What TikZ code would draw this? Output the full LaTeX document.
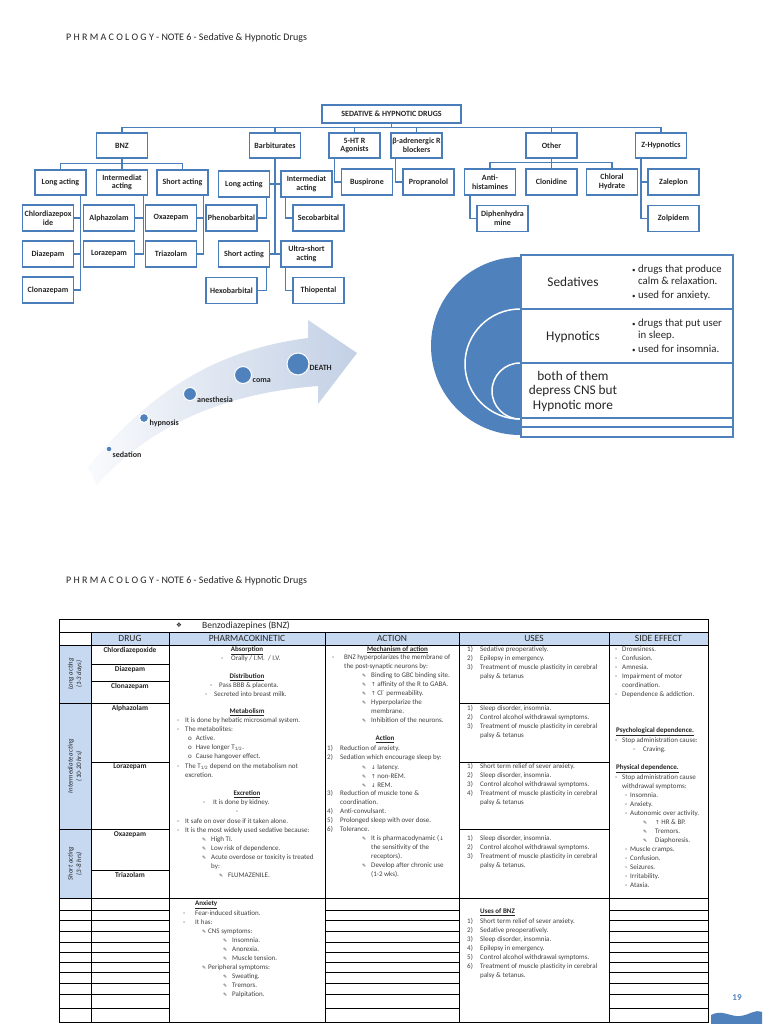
\documentclass[tikz,border=0pt]{standalone}
\usepackage{fontspec}
\setmainfont{Carlito}
\newfontfamily\symf{DejaVu Sans}
\usetikzlibrary{shadows}
\definecolor{bblue}{HTML}{4A7EBB}
\definecolor{nblue}{HTML}{4F81BD}
\definecolor{hblue}{HTML}{C6D9F1}
\definecolor{arrowc}{HTML}{C3D0E5}
\definecolor{txg}{HTML}{404040}
\definecolor{dark}{HTML}{262626}
\newcommand{\mypen}{{\symf\fontsize{4.8}{5}\selectfont ✎}}
\newcommand{\myup}{{\symf\fontsize{5.5}{5}\selectfont ↑}}
\newcommand{\mydn}{{\symf\fontsize{5.5}{5}\selectfont ↓}}
\newcommand{\dsh}[1]{\makebox[#1][l]{-}}
\newcommand{\mk}{\makebox[9pt][l]{\mypen}}
\newcommand{\nm}[1]{\makebox[13pt][l]{#1}}
\newcommand{\blk}[4]{\node[tx] (#1) at (#2,#3-3.1) {\rule{0pt}{5.3pt}#4};}
\tikzset{
 tbox/.style={draw=bblue, line width=1.3pt, fill=white, minimum width=51pt, minimum height=25pt, align=center, inner sep=0pt, font=\bfseries\fontsize{8}{8.6}\selectfont, text=dark, general shadow={fill=black!18, shadow xshift=0.9pt, shadow yshift=-0.9pt}},
 conn/.style={draw=bblue, line width=1.3pt},
 dot/.style={circle, fill=nblue, draw=white, line width=1pt, inner sep=0pt},
 dlab/.style={anchor=west, inner sep=0pt, font=\bfseries\fontsize{8}{9}\selectfont, text=dark},
 cbox/.style={draw=nblue, line width=1.2pt, fill=white, minimum width=212pt, inner sep=0pt},
 ctitle/.style={font=\fontsize{13.3}{14.5}\selectfont, text=dark, align=center, inner sep=0pt},
 cbul/.style={anchor=north west, font=\fontsize{10.8}{12}\selectfont, text=dark, inner sep=0pt},
 tx/.style={anchor=north west, align=left, inner sep=0pt, font=\fontsize{7}{9}\selectfont, text=txg},
 hd/.style={anchor=base, inner sep=0pt, font=\bfseries\fontsize{7}{8}\selectfont, text=black!85},
 drug/.style={inner sep=0pt, font=\bfseries\fontsize{7.4}{8}\selectfont, text=black!85},
 colh/.style={inner sep=0pt, font=\fontsize{9.5}{10}\selectfont, text=dark},
 grp/.style={rotate=90, align=center, inner sep=0pt, font=\itshape\fontsize{6.8}{8.5}\selectfont, text=dark},
 tl/.style={line width=0.6pt, draw=black},
 ttl/.style={anchor=west, inner sep=0pt, font=\fontsize{10}{11}\selectfont, text=dark}
}
\begin{document}
\begin{tikzpicture}[x=1pt, y=-1pt]
\useasboundingbox (0,0) rectangle (768,1024);
\fill[white] (0,0) rectangle (768,1024);

% ---------- page headers ----------
\node[ttl] (head1) at (66,38) {P H R M A C O L O G Y - NOTE 6 - Sedative \& Hypnotic Drugs};
\node[ttl] (head2) at (66,581) {P H R M A C O L O G Y - NOTE 6 - Sedative \& Hypnotic Drugs};

% ---------- hierarchy ----------
\node[tbox, minimum width=139pt, minimum height=18pt] (root) at (391.5,114) {SEDATIVE \& HYPNOTIC DRUGS};
\node[tbox] (bnz) at (122,145.5) {BNZ};
\node[tbox] (barb) at (275,145.5) {Barbiturates};
\node[tbox] (ht) at (354.5,145.5) {5-HT R\\Agonists};
\node[tbox] (beta) at (416.5,145.5) {β-adrenergic R\\blockers};
\node[tbox] (other) at (551.5,145.5) {Other};
\node[tbox] (zh) at (661,145.5) {Z-Hypnotics};

\node[tbox] (bl) at (60.5,182.5) {Long acting};
\node[tbox] (bi) at (122,182.5) {Intermediat\\acting};
\node[tbox] (bs) at (182.5,182.5) {Short acting};
\node[tbox, minimum height=26pt] (chl) at (48,218) {Chlordiazepox\\ide};
\node[tbox, minimum height=26pt] (dia) at (48,254) {Diazepam};
\node[tbox, minimum height=26pt] (cln) at (48,290) {Clonazepam};
\node[tbox, minimum height=26pt] (alp) at (109,218) {Alphazolam};
\node[tbox, minimum height=26pt] (lor) at (109,254) {Lorazepam};
\node[tbox, minimum height=26pt] (oxa) at (171,218) {Oxazepam};
\node[tbox, minimum height=26pt] (tri) at (171,254) {Triazolam};

\node[tbox, minimum height=26pt] (brl) at (244,184) {Long acting};
\node[tbox, minimum height=26pt] (bri) at (306.5,184) {Intermediat\\acting};
\node[tbox, minimum height=26pt] (phe) at (231.5,218) {Phenobarbital};
\node[tbox, minimum height=26pt] (sec) at (318.5,218) {Secobarbital};
\node[tbox, minimum height=26pt] (brs) at (244,254) {Short acting};
\node[tbox, minimum height=26pt] (bru) at (306.5,254) {Ultra-short\\acting};
\node[tbox, minimum height=26pt] (hex) at (231.5,290.5) {Hexobarbital};
\node[tbox, minimum height=26pt] (thi) at (318.5,290.5) {Thiopental};

\node[tbox, minimum height=26pt] (bus) at (367,182) {Buspirone};
\node[tbox, minimum height=26pt] (pro) at (428.5,182) {Propranolol};
\node[tbox, minimum height=26pt] (ant) at (490,182) {Anti-\\histamines};
\node[tbox, minimum height=26pt] (clo) at (551.5,182) {Clonidine};
\node[tbox, minimum height=26pt] (chh) at (612,182) {Chloral\\Hydrate};
\node[tbox, minimum height=26pt] (dip) at (502.5,218.5) {Diphenhydra\\mine};
\node[tbox, minimum height=26pt] (zal) at (673.5,182) {Zaleplon};
\node[tbox, minimum height=26pt] (zol) at (673.5,218.5) {Zolpidem};

\foreach \n in {bnz,barb,ht,beta,other,zh}
  \draw[conn] (root.south) |- ([yshift=5pt]\n.north) -- (\n.north);
\foreach \n in {bl,bi,bs}
  \draw[conn] (bnz.south) |- ([yshift=6pt]\n.north) -- (\n.north);
\foreach \n in {ant,clo,chh}
  \draw[conn] (other.south) |- ([yshift=6pt]\n.north) -- (\n.north);
\foreach \n in {chl,dia,cln}
  \draw[conn] ([xshift=-6pt]bl.south east) |- (\n.east);
\foreach \n in {alp,lor}
  \draw[conn] ([xshift=-5pt]bi.south east) |- (\n.east);
\foreach \n in {oxa,tri}
  \draw[conn] ([xshift=-5pt]bs.south east) |- (\n.east);
\draw[conn] (barb.south) |- (brl.east);
\draw[conn] (barb.south) |- (bri.west);
\draw[conn] (barb.south) |- (brs.east);
\draw[conn] (barb.south) |- (bru.west);
\draw[conn] ([xshift=-4pt]brl.south east) |- (phe.east);
\draw[conn] ([xshift=5pt]bri.south west) |- (sec.west);
\draw[conn] ([xshift=-4pt]brs.south east) |- (hex.east);
\draw[conn] ([xshift=5pt]bru.south west) |- (thi.west);
\draw[conn] ([xshift=6pt]ht.south west) |- (bus.west);
\draw[conn] ([xshift=5pt]beta.south west) |- (pro.west);
\draw[conn] ([xshift=6pt]ant.south west) |- (dip.west);
\draw[conn] ([xshift=6pt]zh.south west) |- (zal.west);
\draw[conn] ([xshift=6pt]zh.south west) |- (zol.west);

% ---------- progression arrow ----------
\shade[left color=arrowc!10, right color=arrowc] (88,467) .. controls (150,392) and (215,350) .. (308,338) -- (308,320) -- (357,353) -- (318,404) -- (318,386) .. controls (225,393) and (150,425) .. (97,485) -- cycle;
\node[dot, minimum size=6pt] (dsed) at (109,449) {};
\node[dot, minimum size=9pt] (dhyp) at (144,418) {};
\node[dot, minimum size=13pt] (dane) at (190,394) {};
\node[dot, minimum size=17pt] (dcom) at (243,375) {};
\node[dot, minimum size=22pt] (ddea) at (298,364) {};
\node[dlab] (lsed) at (112.5,455) {sedation};
\node[dlab] (lhyp) at (149.5,423) {hypnosis};
\node[dlab] (lane) at (197,399.5) {anesthesia};
\node[dlab] (lcom) at (252.5,380.5) {coma};
\node[dlab] (ldea) at (309.5,368) {DEATH};

% ---------- nested circles ----------
\fill[nblue] (520,346) circle (89pt);
\filldraw[fill=nblue, draw=white, line width=1.5pt] (520,364) circle (55pt);
\filldraw[fill=nblue, draw=white, line width=1.5pt] (520,391) circle (28pt);
\node[cbox, minimum height=54pt] (sbox) at (627,282) {};
\node[cbox, minimum height=54pt] (hbox) at (627,336) {};
\node[cbox, minimum height=55pt] (bbox) at (627,390.5) {};
\node[cbox, minimum height=9pt] (t1box) at (627,422.5) {};
\node[cbox, minimum height=10pt] (t2box) at (627,432) {};
\node[ctitle] (sedt) at (573,282) {Sedatives};
\node[ctitle] (hypt) at (573,337) {Hypnotics};
\node[ctitle] (botht) at (573,391) {both of them\\depress CNS but\\Hypnotic more};
\node[cbul] (sedb) at (632,263.8) {\begin{tabular}{@{}l@{}l@{}}\makebox[6pt][l]{\fontsize{7}{7}\selectfont •}& drugs that produce\\ & calm \& relaxation.\\[2pt]\makebox[6pt][l]{\fontsize{7}{7}\selectfont •}& used for anxiety.\end{tabular}};
\node[cbul] (hypb) at (632,317.8) {\begin{tabular}{@{}l@{}l@{}}\makebox[6pt][l]{\fontsize{7}{7}\selectfont •}& drugs that put user\\ & in sleep.\\[2pt]\makebox[6pt][l]{\fontsize{7}{7}\selectfont •}& used for insomnia.\end{tabular}};

% ---------- table ----------
\fill[hblue] (91,632) rectangle (708,645);
\fill[hblue] (59,645) rectangle (91,898);
\draw[tl] (59,632) -- (708,632);
\draw[tl] (59,645) -- (708,645);
\foreach \xx in {91,169,325,459,609} \draw[tl] (\xx,632) -- (\xx,1022);
\draw[tl] (59,703) -- (169,703);
\draw[tl] (59,829) -- (169,829);
\foreach \yy in {664,681,762,870} \draw[tl] (91,\yy) -- (169,\yy);
\foreach \yy in {703,762,829} \draw[tl] (459,\yy) -- (609,\yy);
\draw[tl, line width=1.2pt] (59,898.5) -- (708,898.5);
\foreach \yy in {910,920,931,942,952,962,972,983,994,1008} {
  \draw[tl] (59,\yy) -- (169,\yy);
  \draw[tl] (325,\yy) -- (459,\yy);
  \draw[tl] (609,\yy) -- (708,\yy);
}
\draw[tl, line width=1pt] (59,619) rectangle (708,1022);

\node[inner sep=0pt, font=\symf\fontsize{6.5}{7}\selectfont, text=dark] (diam) at (179,625.5) {❖};
\node[anchor=west, inner sep=0pt, font=\fontsize{9.5}{10}\selectfont, text=dark] (bnzt) at (202,625.5) {Benzodiazepines (BNZ)};
\node[colh] (cdrug) at (130,638.5) {DRUG};
\node[colh] (cphar) at (247,638.5) {PHARMACOKINETIC};
\node[colh] (cact) at (392,638.5) {ACTION};
\node[colh] (cuse) at (534,638.5) {USES};
\node[colh] (cside) at (658.5,638.5) {SIDE EFFECT};

\node[grp] (g1) at (75,674) {Long acting\\(1-3 days)};
\node[grp] (g2) at (75,766) {Intermediate acting\\(10-20 hrs)};
\node[grp] (g3) at (75,863.5) {Short acting\\(3-8 hrs)};

\node[drug] (d1) at (130,650) {Chlordiazepoxide};
\node[drug] (d2) at (130,669) {Diazepam};
\node[drug] (d3) at (130,686.5) {Clonazepam};
\node[drug] (d4) at (130,708.5) {Alphazolam};
\node[drug] (d5) at (130,767) {Lorazepam};
\node[drug] (d6) at (130,834.5) {Oxazepam};
\node[drug] (d7) at (130,875) {Triazolam};

% pharmacokinetic
\node[hd] (abs) at (247,651.5) {\underline{Absorption}};
\blk{abs1}{221}{658.5}{\dsh{10pt}Orally / I.M. ~/ I.V.}
\node[hd] (dis) at (247,678.5) {\underline{Distribution}};
\blk{dis1}{210}{685}{\dsh{9pt}Pass BBB \& placenta.}
\blk{dis2}{205}{694}{\dsh{9pt}Secreted into breast milk.}
\node[hd] (met) at (247,713.5) {\underline{Metabolism}};
\blk{met1}{177}{720.5}{\dsh{8pt}It is done by hebatic microsomal system.\\\dsh{8pt}The metabolites:\\\hspace*{11pt}o\hspace{4pt}Active.\\\hspace*{11pt}o\hspace{4pt}Have longer T\textsubscript{1/2}.\\\hspace*{11pt}o\hspace{4pt}Cause hangover effect.}
\blk{met2}{177}{766.5}{\dsh{8pt}The T\textsubscript{1/2} depend on the metabolism not\\\hspace*{8pt}excretion.}
\node[hd] (exc) at (247,795.5) {\underline{Excretion}};
\blk{exc1}{203}{802.5}{\dsh{10pt}It is done by kidney.}
\node[tx, anchor=center] (exc2) at (237,812) {-};
\blk{saf}{177}{821.5}{\dsh{8pt}It safe on over dose if it taken alone.\\\dsh{8pt}It is the most widely used sedative because:\\\hspace*{25pt}\mk High TI.\\\hspace*{25pt}\mk Low risk of dependence.\\\hspace*{25pt}\mk Acute overdose or toxicity is treated\\\hspace*{34pt}by:\\\hspace*{42pt}\mk FLUMAZENILE.}

% action
\node[hd] (mech) at (397.5,651) {\underline{Mechanism of action}};
\blk{mec1}{332}{657.5}{\dsh{12pt}BNZ hyperpolarizes the membrane of\\\hspace*{12pt}the post-synaptic neurons by:}
\blk{mec2}{362}{675}{\mk Binding to GBC binding site.\\\mk\myup{} affinity of the R to GABA.\\\mk\myup{} Cl\textsuperscript{-} permeability.\\\mk Hyperpolarize the\\\hspace*{9pt}membrane.\\\mk Inhibition of the neurons.}
\node[hd] (act) at (385,740.5) {\underline{Action}};
\blk{act1}{327}{748}{\nm{1)}Reduction of anxiety.\\\nm{2)}Sedation which encourage sleep by:}
\blk{act2}{362}{767.5}{\mk\mydn{} latency.\\\mk\myup{} non-REM.\\\mk\mydn{} REM.}
\blk{act3}{327}{793.5}{\nm{3)}Reduction of muscle tone \&\\\hspace*{13pt}coordination.\\\nm{4)}Anti-convulsant.\\\nm{5)}Prolonged sleep with over dose.\\\nm{6)}Tolerance.}
\blk{act4}{362}{838}{\mk It is pharmacodynamic (\mydn\\\hspace*{9pt}the sensitivity of the\\\hspace*{9pt}receptors).\\\mk Develop after chronic use\\\hspace*{9pt}(1-2 wks).}

% uses
\blk{u1}{467}{649.5}{\nm{1)}Sedative preoperatively.\\\nm{2)}Epilepsy in emergency.\\\nm{3)}Treatment of muscle plasticity in cerebral\\\hspace*{13pt}palsy \& tetanus}
\blk{u2}{467}{708}{\nm{1)}Sleep disorder, insomnia.\\\nm{2)}Control alcohol withdrawal symptoms.\\\nm{3)}Treatment of muscle plasticity in cerebral\\\hspace*{13pt}palsy \& tetanus}
\blk{u3}{467}{766}{\nm{1)}Short term relief of sever anxiety.\\\nm{2)}Sleep disorder, insomnia.\\\nm{3)}Control alcohol withdrawal symptoms.\\\nm{4)}Treatment of muscle plasticity in cerebral\\\hspace*{13pt}palsy \& tetanus}
\blk{u4}{467}{838}{\nm{1)}Sleep disorder, insomnia.\\\nm{2)}Control alcohol withdrawal symptoms.\\\nm{3)}Treatment of muscle plasticity in cerebral\\\hspace*{13pt}palsy \& tetanus.}

% side effects
\blk{s1}{615}{649.5}{\dsh{7pt}Drowsiness.\\\dsh{7pt}Confusion.\\\dsh{7pt}Amnesia.\\\dsh{7pt}Impairment of motor\\\hspace*{7pt}coordination.\\\dsh{7pt}Dependence \& addiction.}
\node[hd, anchor=base west] (psy) at (616,732.5) {\underline{Psychological dependence.}};
\blk{s2}{615}{740}{\dsh{7pt}Stop administration cause:\\\hspace*{18pt}\dsh{10pt}Craving.}
\node[hd, anchor=base west] (phy) at (616,769.5) {\underline{Physical dependence.}};
\blk{s3}{615}{777}{\dsh{7pt}Stop administration cause\\\hspace*{7pt}withdrawal symptoms:\\\hspace*{10pt}\dsh{5pt}Insomnia.\\\hspace*{10pt}\dsh{5pt}Anxiety.\\\hspace*{10pt}\dsh{5pt}Autonomic over activity.\\\hspace*{28pt}\makebox[12pt][l]{\mypen}\myup{} HR \& BP.\\\hspace*{28pt}\makebox[12pt][l]{\mypen}Tremors.\\\hspace*{28pt}\makebox[12pt][l]{\mypen}Diaphoresis.\\\hspace*{10pt}\dsh{5pt}Muscle cramps.\\\hspace*{10pt}\dsh{5pt}Confusion.\\\hspace*{10pt}\dsh{5pt}Seizures.\\\hspace*{10pt}\dsh{5pt}Irritability.\\\hspace*{10pt}\dsh{5pt}Ataxia.}

% bottom block
\node[hd, anchor=base west] (anx) at (195,905.5) {\underline{Anxiety}};
\blk{anx1}{183}{913}{\dsh{12pt}Fear-induced situation.\\\dsh{12pt}It has:\\\hspace*{19pt}\makebox[6pt][l]{\mypen}CNS symptoms:}
\blk{anx2}{223}{940}{\mk Insomnia.\\\mk Anorexia.\\\mk Muscle tension.}
\blk{anx3}{202}{967}{\makebox[6pt][l]{\mypen}Peripheral symptoms:}
\blk{anx4}{223}{976}{\mk Sweating.\\\mk Tremors.\\\mk Palpitation.}
\node[hd, anchor=base west] (ubnz) at (480,913.5) {\underline{Uses of BNZ}};
\blk{u5}{467}{921}{\nm{1)}Short term relief of sever anxiety.\\\nm{2)}Sedative preoperatively.\\\nm{3)}Sleep disorder, insomnia.\\\nm{4)}Epilepsy in emergency.\\\nm{5)}Control alcohol withdrawal symptoms.\\\nm{6)}Treatment of muscle plasticity in cerebral\\\hspace*{13pt}palsy \& tetanus.}

% page number and wave
\node[inner sep=0pt, font=\bfseries\fontsize{9}{10}\selectfont, text=nblue] (pg) at (737,998) {19};
\fill[nblue] (711,1024) -- (711,1015) .. controls (722,1009) and (730,1017) .. (740,1016) .. controls (750,1015) and (754,1009) .. (762,1012) -- (762,1024) -- cycle;
\end{tikzpicture}
\end{document}
